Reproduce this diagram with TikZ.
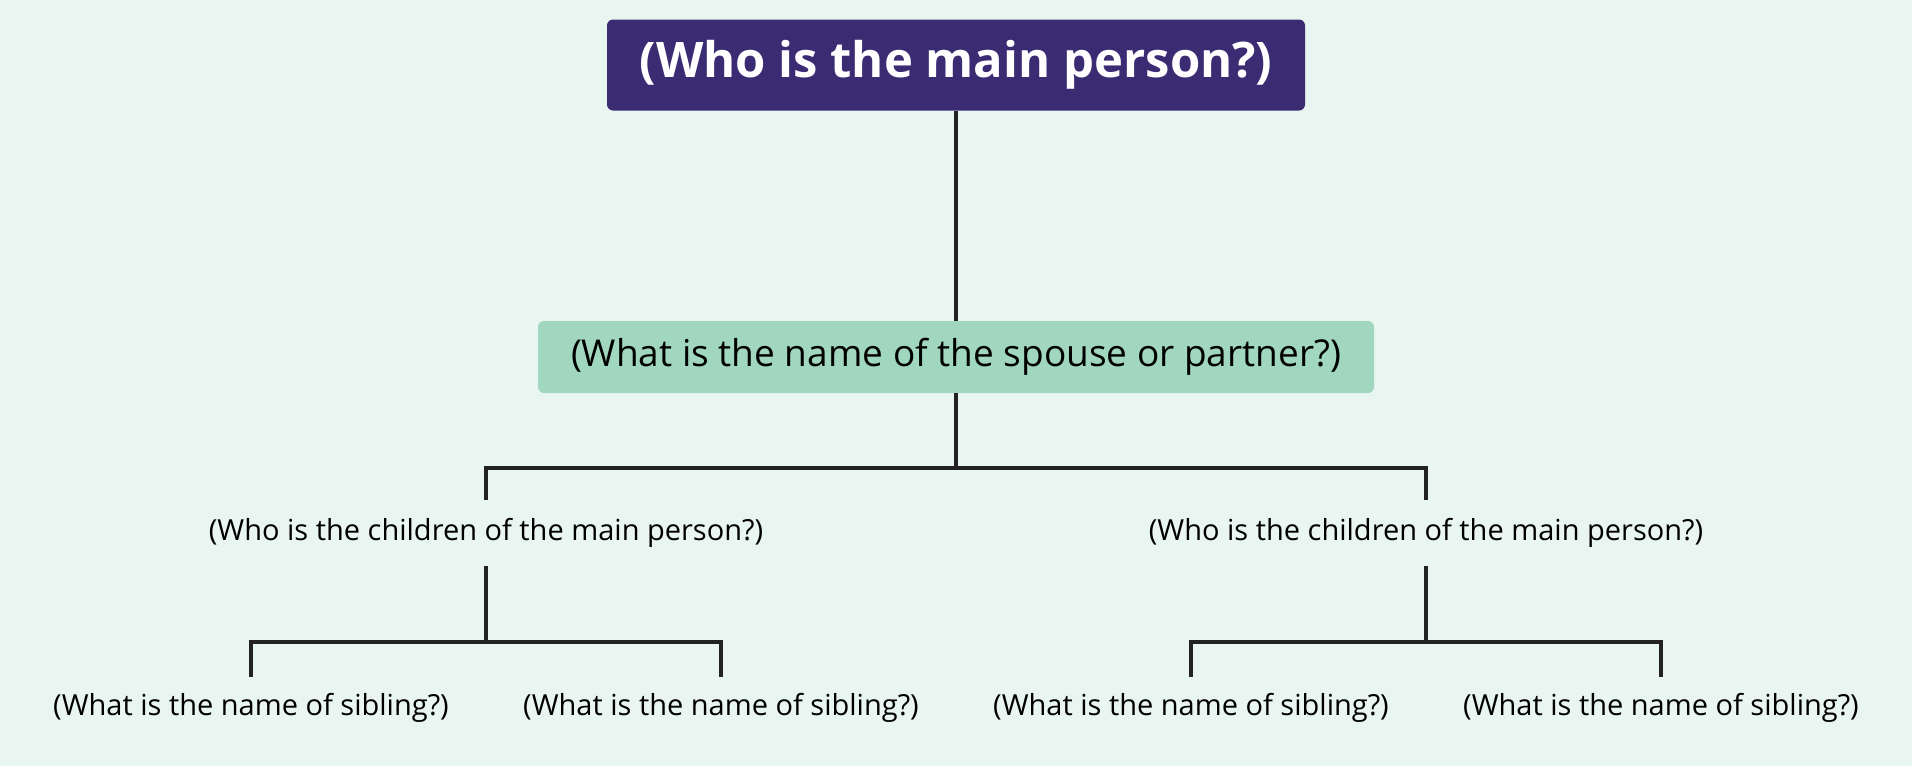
\documentclass[tikz,border=0pt]{standalone}
\usepackage{fontspec}
\setmainfont{Open Sans}
\usepackage{tikz}
\usetikzlibrary{positioning}
\definecolor{bgmint}{HTML}{E8F5F0}
\definecolor{mainpurple}{HTML}{3A2B73}
\definecolor{spousegreen}{HTML}{A1D7BF}
\definecolor{linegray}{HTML}{222222}

\begin{document}
\begin{tikzpicture}[x=1pt, y=1pt, node distance={175pt},
  main/.style = {fill=mainpurple, text=white, rounded corners=6pt, font=\fontsize{49}{58}\selectfont\bfseries, minimum width=698pt, minimum height=91pt},
  spouse/.style = {fill=spousegreen, text=black, rounded corners=6pt, font=\fontsize{37}{44}\selectfont, minimum width=836pt, minimum height=72pt},
  kid/.style = {text=black, font=\fontsize{29}{35}\selectfont, minimum height=66pt, inner sep=0pt},
  sib/.style = {text=black, font=\fontsize{29}{35}\selectfont, minimum height=62pt, inner sep=0pt},
  link/.style = {draw=linegray, line width=3.5pt}]
\fill[bgmint] (0,0) rectangle (1912,-766);
\useasboundingbox (0,0) rectangle (1912,-766);
\node[main] (M) at (956,-65) {(Who is the main person?)};
\node[spouse] (S) [below of=M, node distance=292pt] {(What is the name of the spouse or partner?)};
\node[kid] (K1) [below of=S, node distance=176pt, xshift=-470pt] {(Who is the children of the main person?)};
\node[kid] (K2) [below of=S, node distance=176pt, xshift=470pt] {(Who is the children of the main person?)};
\node[sib] (A1) [below of=K1, xshift=-235pt] {(What is the name of sibling?)};
\node[sib] (A2) [below of=K1, xshift=235pt] {(What is the name of sibling?)};
\node[sib] (B1) [below of=K2, xshift=-235pt] {(What is the name of sibling?)};
\node[sib] (B2) [below of=K2, xshift=235pt] {(What is the name of sibling?)};
\draw[link] (M) -- (S);
\draw[link] (S.south) -- ++(0,-75) -| (K1.north);
\draw[link] (S.south) -- ++(0,-75) -| (K2.north);
\draw[link] (K1.south) -- ++(0,-76) -| (A1.north);
\draw[link] (K1.south) -- ++(0,-76) -| (A2.north);
\draw[link] (K2.south) -- ++(0,-76) -| (B1.north);
\draw[link] (K2.south) -- ++(0,-76) -| (B2.north);
\end{tikzpicture}
\end{document}
